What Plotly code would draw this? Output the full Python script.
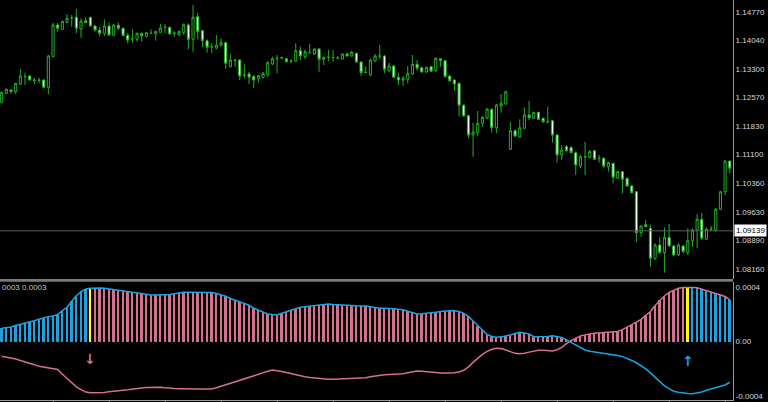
import plotly.graph_objects as go

# ---------------- price data (one candle per bar) ----------------
bar_index = list(range(157))

open_ = [1.12442,1.12673,1.12758,1.12714,1.12912,1.13110,1.13118,1.13015,1.13002,1.13015,
1.12827,1.13614,1.14429,1.14318,1.14498,1.14616,1.14626,1.14326,1.14539,1.14626,
1.14403,1.14300,1.14215,1.14403,1.14164,1.14421,1.14344,1.14164,1.14076,1.14061,
1.14215,1.14128,1.14215,1.14197,1.14241,1.14369,1.14369,1.14215,1.14172,1.14231,
1.14429,1.14061,1.14642,1.14282,1.14025,1.13871,1.13837,1.13907,1.13974,1.13357,
1.13529,1.13529,1.13144,1.13169,1.13100,1.13048,1.13084,1.13144,1.13426,1.13573,
1.13588,1.13562,1.13503,1.13503,1.13768,1.13614,1.13717,1.13683,1.13812,1.13547,
1.13598,1.13593,1.13573,1.13555,1.13683,1.13632,1.13701,1.13478,1.13213,1.13144,
1.13503,1.13632,1.13632,1.13254,1.13375,1.13084,1.13015,1.13033,1.13169,1.13419,
1.13331,1.13221,1.13357,1.13254,1.13562,1.13511,1.13118,1.13015,1.12930,1.12365,
1.12098,1.11602,1.11661,1.11902,1.12031,1.12262,1.11789,1.12347,1.12398,1.11234,
1.11712,1.11550,1.11774,1.12116,1.12031,1.12185,1.12031,1.11943,1.11969,1.11602,
1.11088,1.11301,1.11285,1.11147,1.10805,1.11044,1.11028,1.11198,1.11003,1.11003,
1.10787,1.10874,1.10489,1.10658,1.10489,1.10291,1.10144,1.09091,1.09296,1.09204,
1.08433,1.08775,1.08577,1.08972,1.08749,1.08518,1.08749,1.08577,1.08885,1.09160,
1.09435,1.08921,1.09186,1.09160,1.09692,1.10144,1.10933]

high = [1.12714,1.12797,1.12784,1.12946,1.13290,1.13203,1.13144,1.13074,1.13074,1.13033,
1.13658,1.14488,1.14472,1.14539,1.14711,1.14686,1.14840,1.14601,1.14626,1.14642,
1.14429,1.14385,1.14575,1.14488,1.14447,1.14488,1.14359,1.14215,1.14318,1.14231,
1.14231,1.14249,1.14318,1.14282,1.14454,1.14454,1.14385,1.14267,1.14300,1.14472,
1.14472,1.14943,1.14745,1.14300,1.14061,1.13958,1.14172,1.14087,1.13999,1.13676,
1.13547,1.13547,1.13419,1.13227,1.13144,1.13144,1.13227,1.13503,1.13614,1.13658,
1.13614,1.13573,1.13547,1.13958,1.13871,1.13804,1.13940,1.13830,1.13830,1.13614,
1.13786,1.13786,1.13632,1.13701,1.13717,1.13768,1.13717,1.13485,1.13357,1.13562,
1.13683,1.13915,1.13658,1.13460,1.13401,1.13203,1.13118,1.13375,1.13658,1.13529,
1.13357,1.13357,1.13375,1.13598,1.13580,1.13529,1.13136,1.13033,1.12946,1.12398,
1.12116,1.11918,1.12218,1.12090,1.12288,1.12288,1.12398,1.12655,1.12740,1.11943,
1.11748,1.12005,1.12313,1.12475,1.12200,1.12200,1.12046,1.12329,1.11987,1.11620,
1.11345,1.11345,1.11301,1.11172,1.11088,1.11429,1.11216,1.11216,1.11088,1.11028,
1.10915,1.10890,1.10684,1.10675,1.10503,1.10316,1.10162,1.09289,1.09417,1.09289,
1.08818,1.08972,1.09229,1.09314,1.08775,1.08818,1.08775,1.09204,1.09204,1.09571,
1.09605,1.09229,1.09263,1.09718,1.10162,1.10959,1.10941]

low = [1.12416,1.12655,1.12655,1.12655,1.12887,1.12887,1.12997,1.12912,1.12930,1.12802,
1.12655,1.13606,1.14256,1.14300,1.14472,1.14385,1.14215,1.14102,1.14472,1.14385,
1.14256,1.14128,1.14146,1.14146,1.14146,1.14300,1.14146,1.13958,1.13974,1.13999,
1.13999,1.14112,1.14197,1.14025,1.14231,1.14215,1.14179,1.14128,1.14146,1.14172,
1.13804,1.13742,1.14061,1.13855,1.13717,1.13701,1.13804,1.13871,1.13290,1.13341,
1.13357,1.13015,1.13059,1.12912,1.12802,1.12946,1.13059,1.13100,1.13401,1.13187,
1.13547,1.13460,1.13444,1.13485,1.13529,1.13547,1.13701,1.13658,1.13227,1.13401,
1.13503,1.13485,1.13547,1.13547,1.13614,1.13614,1.13460,1.13118,1.13203,1.13118,
1.13485,1.13547,1.13187,1.13227,1.13059,1.12887,1.12861,1.12930,1.13151,1.13254,
1.13203,1.13203,1.13221,1.13227,1.13357,1.13084,1.12971,1.12740,1.12072,1.12072,
1.11517,1.11044,1.11584,1.11815,1.12005,1.11661,1.11653,1.12175,1.12380,1.11216,
1.11550,1.11532,1.11756,1.11987,1.12013,1.11987,1.11918,1.11902,1.11404,1.10890,
1.10959,1.11172,1.11131,1.10574,1.10746,1.10574,1.11003,1.10959,1.10890,1.10746,
1.10658,1.10359,1.10471,1.10102,1.10273,1.10102,1.08859,1.08988,1.09229,1.08217,
1.08389,1.08561,1.08063,1.08731,1.08474,1.08492,1.08577,1.08518,1.08731,1.08690,
1.08903,1.08903,1.09142,1.09116,1.09674,1.10060,1.10617]

close = [1.12699,1.12776,1.12719,1.12930,1.13118,1.13102,1.13015,1.13007,1.13010,1.12827,
1.13632,1.14429,1.14344,1.14524,1.14601,1.14614,1.14344,1.14531,1.14488,1.14403,
1.14300,1.14215,1.14403,1.14172,1.14429,1.14344,1.14154,1.14043,1.14074,1.14215,
1.14154,1.14231,1.14213,1.14267,1.14351,1.14367,1.14197,1.14218,1.14256,1.14436,
1.14061,1.14626,1.14256,1.14025,1.13855,1.13868,1.13915,1.13974,1.13444,1.13529,
1.13526,1.13118,1.13141,1.13084,1.13015,1.13126,1.13187,1.13460,1.13562,1.13570,
1.13585,1.13485,1.13501,1.13768,1.13632,1.13742,1.13719,1.13812,1.13547,1.13598,
1.13596,1.13591,1.13575,1.13683,1.13632,1.13727,1.13478,1.13203,1.13210,1.13529,
1.13632,1.13629,1.13290,1.13375,1.13084,1.13015,1.13059,1.13187,1.13419,1.13316,
1.13221,1.13341,1.13239,1.13573,1.13511,1.13100,1.12997,1.12912,1.12365,1.12090,
1.11602,1.11679,1.11902,1.12056,1.12270,1.11789,1.12373,1.12416,1.12714,1.11712,
1.11576,1.11789,1.12116,1.12046,1.12185,1.12005,1.11943,1.11941,1.11602,1.11088,
1.11216,1.11198,1.11147,1.10831,1.11044,1.11041,1.11172,1.10977,1.11000,1.10805,
1.10890,1.10514,1.10658,1.10463,1.10291,1.10119,1.09091,1.09263,1.09245,1.08433,
1.08775,1.08577,1.08972,1.08749,1.08518,1.08775,1.08602,1.08885,1.09160,1.09435,
1.08947,1.09178,1.09183,1.09700,1.10144,1.10933,1.10746]

price_ticks = [1.14770, 1.14040, 1.13300, 1.12570, 1.11830, 1.11100, 1.10360, 1.09630, 1.08890, 1.08160]
price_tick_text = ["1.14770", "1.14040", "1.13300", "1.12570", "1.11830", "1.11100", "1.10360", "1.09630", "1.08890", "1.08160"]
current_price = 1.09139

# ---------------- oscillator data (units of 1e-4) ----------------
osc_blue_e4 = [0.97,1.01,1.06,1.17,1.26,1.33,1.40,1.52,1.64,1.75,
1.81,1.87,1.98,2.26,2.50,2.95,3.36,3.67,3.85,3.90,
3.92,3.93,3.90,3.85,3.78,3.74,3.71,3.66,3.62,3.56,
3.50,3.45,3.41,3.41,3.41,3.41,3.45,3.50,3.56,3.61,
3.61,3.61,3.61,3.61,3.61,3.60,3.52,3.44,3.32,3.16,
3.03,2.91,2.78,2.66,2.44,2.30,2.16,2.02,1.98,1.95,
2.07,2.17,2.28,2.40,2.51,2.55,2.60,2.64,2.68,2.72,
2.75,2.72,2.69,2.67,2.65,2.64,2.62,2.61,2.61,2.55,
2.47,2.44,2.44,2.44,2.41,2.36,2.33,2.22,2.12,2.02,
2.04,2.06,2.08,2.14,2.20,2.24,2.25,2.26,2.20,2.06,
1.84,1.50,1.17,0.81,0.51,0.37,0.31,0.34,0.40,0.48,
0.59,0.68,0.62,0.55,0.35,0.35,0.35,0.37,0.42,0.38,
0.29,0.12,-0.07,-0.26,-0.44,-0.62,-0.72,-0.77,-0.81,-0.86,
-0.90,-0.94,-1.03,-1.11,-1.23,-1.39,-1.56,-1.76,-2.01,-2.30,
-2.61,-2.94,-3.25,-3.46,-3.65,-3.73,-3.80,-3.82,-3.83,-3.78,
-3.71,-3.58,-3.47,-3.36,-3.29,-3.19,-2.99]

osc_pink_e4 = [-1.09,-1.15,-1.21,-1.29,-1.39,-1.48,-1.59,-1.70,-1.82,-1.89,
-1.95,-2.00,-2.06,-2.40,-2.70,-2.99,-3.33,-3.53,-3.71,-3.76,
-3.76,-3.76,-3.74,-3.68,-3.63,-3.60,-3.57,-3.55,-3.52,-3.46,
-3.41,-3.37,-3.36,-3.36,-3.36,-3.40,-3.44,-3.45,-3.46,-3.48,
-3.49,-3.49,-3.49,-3.49,-3.49,-3.49,-3.40,-3.29,-3.16,-3.02,
-2.94,-2.83,-2.72,-2.61,-2.52,-2.36,-2.28,-2.19,-2.10,-2.13,
-2.20,-2.28,-2.37,-2.45,-2.52,-2.59,-2.65,-2.69,-2.72,-2.76,
-2.77,-2.77,-2.76,-2.75,-2.72,-2.71,-2.69,-2.68,-2.66,-2.58,
-2.52,-2.46,-2.44,-2.42,-2.41,-2.39,-2.36,-2.30,-2.23,-2.17,
-2.19,-2.20,-2.22,-2.27,-2.31,-2.33,-2.32,-2.30,-2.24,-2.11,
-1.86,-1.53,-1.21,-0.95,-0.73,-0.57,-0.50,-0.51,-0.62,-0.77,
-0.87,-0.90,-0.87,-0.78,-0.71,-0.65,-0.64,-0.67,-0.69,-0.60,
-0.43,-0.16,0.07,0.25,0.40,0.50,0.56,0.60,0.62,0.64,
0.67,0.70,0.73,0.87,1.04,1.21,1.42,1.63,1.91,2.20,
2.64,3.01,3.34,3.61,3.78,3.91,3.96,3.98,3.96,3.95,
3.84,3.72,3.62,3.53,3.43,3.30,3.05]

hist_e4 = [0.97,1.01,1.06,1.17,1.26,1.33,1.40,1.52,1.64,1.75,
1.81,1.87,1.98,2.26,2.50,2.95,3.36,3.67,3.85,3.90,
3.92,3.93,3.90,3.85,3.78,3.74,3.71,3.66,3.62,3.56,
3.50,3.45,3.41,3.41,3.41,3.41,3.45,3.50,3.56,3.61,
3.61,3.61,3.61,3.61,3.61,3.60,3.52,3.44,3.32,3.16,
3.03,2.91,2.78,2.66,2.44,2.30,2.16,2.02,1.98,1.95,
2.07,2.17,2.28,2.40,2.51,2.55,2.60,2.64,2.68,2.72,
2.75,2.72,2.69,2.67,2.65,2.64,2.62,2.61,2.61,2.55,
2.47,2.44,2.44,2.44,2.41,2.36,2.33,2.22,2.12,2.02,
2.04,2.06,2.08,2.14,2.20,2.24,2.25,2.26,2.20,2.06,
1.84,1.50,1.17,0.81,0.51,0.37,0.31,0.34,0.40,0.48,
0.59,0.68,0.62,0.55,0.35,0.35,0.35,0.37,0.42,0.38,
0.29,0.12,0.07,0.25,0.40,0.50,0.56,0.60,0.62,0.64,
0.67,0.70,0.73,0.87,1.04,1.21,1.42,1.63,1.91,2.20,
2.64,3.01,3.34,3.61,3.78,3.91,3.96,3.98,3.96,3.95,
3.84,3.72,3.62,3.53,3.43,3.30,3.05]

# histogram colour runs: (state, number of bars)
hist_runs = [("up", 19), ("signal", 1), ("down", 127), ("signal", 1), ("up", 9)]

signal_index = [19, 147]
signal_value_e4 = [-1.25, -1.43]
signal_symbol = ["↓", "↑"]

osc_ticks = [0.0004, 0.0, -0.0004]
osc_tick_text = ["0.0004", "0.00", "-0.0004"]
osc_caption = "0003 0.0003"
bottom_ticks = [11, 23, 35, 47, 59, 71, 83, 95, 107, 119, 131, 143, 155]

# ---------------- styling ----------------
GREEN = "#22b022"
BEAR_FILL = "#eaffea"
BLUE = "#19a3e3"
PINK = "#d5708f"
YELLOW = "#ffff00"
AXIS = "#9a9a9a"
TXT = "#d6d6d6"
FONT = "Liberation Sans"

scale = 1e-4
blue_vals = [v * scale for v in osc_blue_e4]
pink_vals = [v * scale for v in osc_pink_e4]
hist_vals = [v * scale for v in hist_e4]
state_color = {"up": BLUE, "down": PINK, "signal": YELLOW}
hist_colors = []
for state, n in hist_runs:
    hist_colors += [state_color[state]] * n

X_RANGE = [-0.364, 156.69]

fig = go.Figure()

fig.add_trace(go.Candlestick(
    x=bar_index, open=open_, high=high, low=low, close=close,
    increasing=dict(line=dict(color=GREEN, width=1), fillcolor="#000000"),
    decreasing=dict(line=dict(color=GREEN, width=1), fillcolor=BEAR_FILL),
    whiskerwidth=0, hoverinfo="skip", showlegend=False,
    xaxis="x", yaxis="y",
))

fig.add_trace(go.Bar(
    x=bar_index, y=hist_vals, width=0.38,
    marker=dict(color=hist_colors, line=dict(width=0)),
    hoverinfo="skip", showlegend=False, xaxis="x2", yaxis="y2",
))
fig.add_trace(go.Scatter(
    x=bar_index, y=pink_vals, mode="lines",
    line=dict(color=PINK, width=1.5), hoverinfo="skip", showlegend=False,
    xaxis="x2", yaxis="y2",
))
fig.add_trace(go.Scatter(
    x=bar_index, y=blue_vals, mode="lines",
    line=dict(color=BLUE, width=1.5), hoverinfo="skip", showlegend=False,
    xaxis="x2", yaxis="y2",
))

annotations = []
for idx, val, sym, col in zip(signal_index, signal_value_e4, signal_symbol, [PINK, BLUE]):
    annotations.append(dict(
        x=idx, y=val * scale, xref="x2", yref="y2", text="<b>%s</b>" % sym,
        showarrow=False, font=dict(family="DejaVu Sans", size=14, color=col),
        xanchor="center", yanchor="middle",
    ))

annotations.append(dict(
    x=1, xref="paper", xanchor="left", xshift=1,
    y=current_price, yref="y", yanchor="middle",
    text=f"{current_price:.5f}", showarrow=False,
    bgcolor="#ffffff", borderpad=1,
    font=dict(family=FONT, size=8, color="#000000"),
))
annotations.append(dict(
    x=0, xref="paper", xanchor="left",
    y=0.000393, yref="y2", yanchor="middle",
    text=osc_caption, showarrow=False,
    font=dict(family=FONT, size=8, color="#c8c2b4"),
))

shapes = [
    dict(type="line", xref="paper", yref="y", x0=0, x1=1,
         y0=current_price, y1=current_price,
         line=dict(color="#5c5c64", width=1)),
    dict(type="rect", xref="paper", yref="paper", x0=0, x1=1,
         y0=0.2955, y1=0.3025, fillcolor="#7a7a7a", line=dict(width=0)),
]

fig.update_layout(
    width=768, height=402, autosize=False,
    margin=dict(l=0, r=35, t=0, b=2, pad=0),
    paper_bgcolor="#000000", plot_bgcolor="#000000",
    boxgap=0.35,
    showlegend=False,
    bargap=0,
    annotations=annotations,
    shapes=shapes,
    font=dict(family=FONT, size=8, color=TXT),
    xaxis=dict(domain=[0, 1], range=X_RANGE, anchor="y",
               showticklabels=False, showgrid=False, zeroline=False,
               showline=False, ticks="", rangeslider=dict(visible=False),
               fixedrange=True),
    xaxis2=dict(domain=[0, 1], range=X_RANGE, anchor="y2",
                showticklabels=False, showgrid=False, zeroline=False,
                showline=True, linecolor=AXIS, linewidth=1,
                ticks="outside", tickvals=bottom_ticks, ticklen=3,
                tickcolor=AXIS, tickwidth=1, fixedrange=True),
    yaxis=dict(domain=[0.3025, 1], range=[1.07901, 1.15071], anchor="x",
               side="right", tickvals=price_ticks, ticktext=price_tick_text,
               showgrid=False, zeroline=False, showline=True,
               linecolor=AXIS, linewidth=1, ticks="",
               tickfont=dict(family=FONT, size=8, color=TXT),
               fixedrange=True),
    yaxis2=dict(domain=[0, 0.295], range=[-0.0004294, 0.0004367], anchor="x2",
                side="right", tickvals=osc_ticks, ticktext=osc_tick_text,
                showgrid=False, zeroline=False, showline=True,
                linecolor=AXIS, linewidth=1, ticks="",
                tickfont=dict(family=FONT, size=8, color=TXT),
                fixedrange=True),
)

page_fix = ("document.body.style.margin='0';"
            "document.body.style.padding='0';"
            "document.body.style.overflow='hidden';"
            "document.body.style.background='#000000';")

fig.write_html("out.html", post_script=page_fix, config={"displayModeBar": False})
